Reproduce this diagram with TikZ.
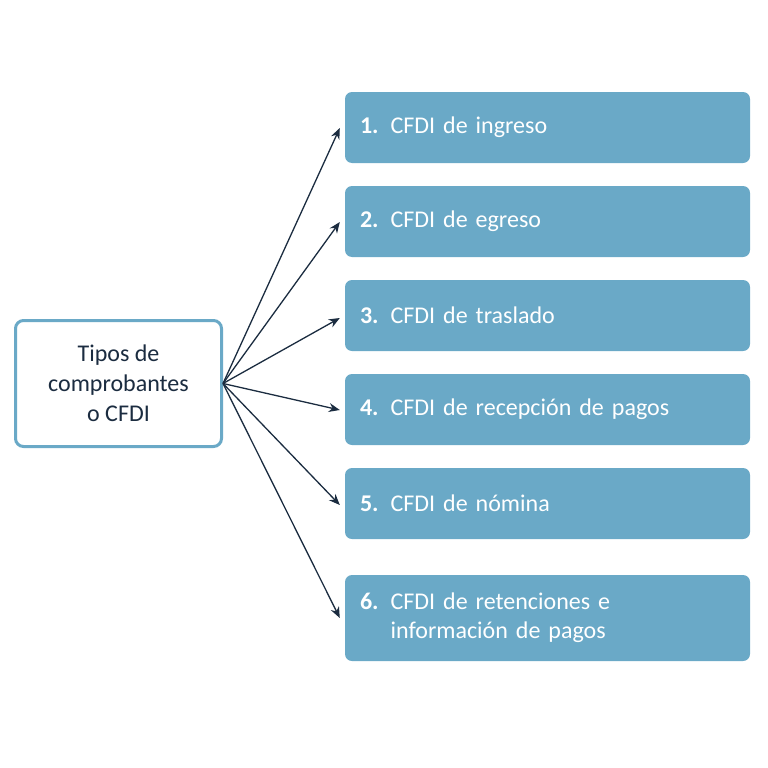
\documentclass[tikz,border=0pt]{standalone}
\usepackage{fontspec}
\setmainfont{Carlito}
\usetikzlibrary{arrows.meta,calc}
\definecolor{boxblue}{HTML}{6AA9C7}
\definecolor{navy}{HTML}{1B2C40}
\tikzset{
  item/.style={fill=boxblue,rounded corners=7pt,minimum width=405pt,text width=375pt,align=left,text=white,font=\fontsize{24}{29}\selectfont,inner sep=0pt},
  conn/.style={navy,line width=1.3pt,-{Stealth[length=11pt,width=9pt]}}
}
\begin{document}
\begin{tikzpicture}[x=1pt,y=-1pt]
\useasboundingbox (0,0) rectangle (768,768);
\node[draw=boxblue,line width=3pt,fill=white,rounded corners=8pt,minimum width=206pt,minimum height=126pt,align=center,text=navy,font=\fontsize{24}{30}\selectfont] (src) at (118.5,383.5) {Tipos de\\comprobantes\\o CFDI};
\node[item,minimum height=71pt] (b1) at (547.5,127.5) {\textbf{1.} CFDI de ingreso};
\node[item,minimum height=71pt] (b2) at (547.5,221.5) {\textbf{2.} CFDI de egreso};
\node[item,minimum height=71pt] (b3) at (547.5,315.5) {\textbf{3.} CFDI de traslado};
\node[item,minimum height=71pt] (b4) at (547.5,409.5) {\textbf{4.} CFDI de recepción de pagos};
\node[item,minimum height=71pt] (b5) at (547.5,503.5) {\textbf{5.} CFDI de nómina};
\node[item,minimum height=86pt] (b6) at (547.5,618) {\textbf{6.} CFDI de retenciones e\\\phantom{\textbf{6.} }información de pagos};
\coordinate (o) at (src.east);
\foreach \b/\y in {b1/128,b2/222,b3/318,b4/410,b5/505,b6/618}
  \draw[conn] (o) -- ($(\b.west|-0,\y)+(-5,0)$);
\end{tikzpicture}
\end{document}
